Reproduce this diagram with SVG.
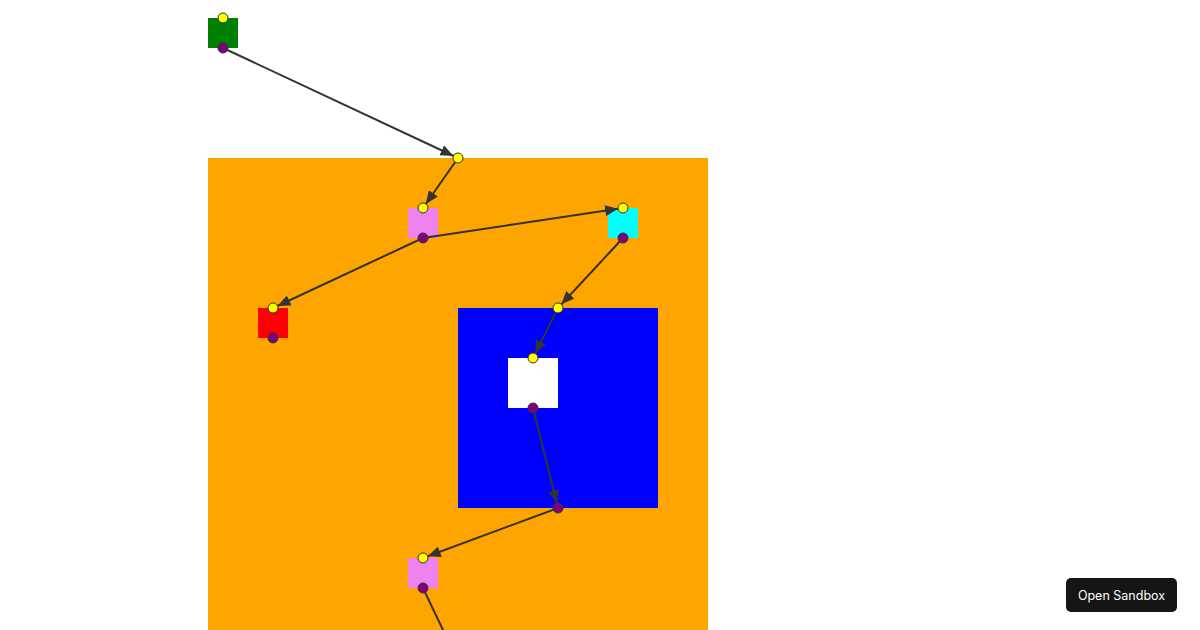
<svg xmlns="http://www.w3.org/2000/svg" width="1200" height="630" viewBox="0 0 1200 630">
  <style>
    .edge { stroke: #333333; stroke-width: 2; fill: none; }
    .in { fill: #ffff00; stroke: #333333; stroke-width: 1; }
    .out { fill: #800080; stroke: #333333; stroke-width: 1; }
    .btn-text { font-family: Inter, "Liberation Sans", sans-serif; font-size: 12.5px; fill: #ffffff; }
  </style>
  <defs>
    <marker id="arrow" viewBox="0 0 13 11" markerWidth="13" markerHeight="11" refX="18" refY="5.5" markerUnits="userSpaceOnUse" orient="auto">
      <path d="M0,0 L13,5.5 L0,11 Z" fill="#333333"/>
    </marker>
  </defs>
  <rect width="1200" height="630" fill="#ffffff"/>

  <g id="orange-container">
    <rect x="208" y="158" width="500" height="480" fill="#ffa500"/>
  </g>
  <g id="blue-container">
    <rect x="458" y="308" width="200" height="200" fill="#0000ff"/>
  </g>
  <g id="green-node">
    <rect x="208" y="18" width="30" height="30" fill="#008000"/>
  </g>
  <g id="pink-node-1">
    <rect x="408" y="208" width="30" height="30" fill="#ee82ee"/>
  </g>
  <g id="cyan-node">
    <rect x="608" y="208" width="30" height="30" fill="#00ffff"/>
  </g>
  <g id="red-node">
    <rect x="258" y="308" width="30" height="30" fill="#ff0000"/>
  </g>
  <g id="white-node">
    <rect x="508" y="358" width="50" height="50" fill="#ffffff"/>
  </g>
  <g id="pink-node-2">
    <rect x="408" y="558" width="30" height="30" fill="#ee82ee"/>
  </g>

  <g id="connectors">
    <line class="edge" x1="223" y1="48" x2="458" y2="158" marker-end="url(#arrow)"/>
    <line class="edge" x1="458" y1="158" x2="423" y2="208" marker-end="url(#arrow)"/>
    <line class="edge" x1="423" y1="238" x2="623" y2="208" marker-end="url(#arrow)"/>
    <line class="edge" x1="423" y1="238" x2="273" y2="308" marker-end="url(#arrow)"/>
    <line class="edge" x1="623" y1="238" x2="558" y2="308" marker-end="url(#arrow)"/>
    <line class="edge" x1="558" y1="308" x2="533" y2="358" marker-end="url(#arrow)"/>
    <line class="edge" x1="533" y1="408" x2="558" y2="508" marker-end="url(#arrow)"/>
    <line class="edge" x1="558" y1="508" x2="423" y2="558" marker-end="url(#arrow)"/>
    <line class="edge" x1="423" y1="588" x2="453" y2="651"/>
  </g>

  <g id="ports">
    <circle class="in" cx="223" cy="18" r="5"/>
    <circle class="out" cx="223" cy="48" r="5"/>
    <circle class="in" cx="458" cy="158" r="5"/>
    <circle class="in" cx="423" cy="208" r="5"/>
    <circle class="out" cx="423" cy="238" r="5"/>
    <circle class="in" cx="623" cy="208" r="5"/>
    <circle class="out" cx="623" cy="238" r="5"/>
    <circle class="in" cx="273" cy="308" r="5"/>
    <circle class="out" cx="273" cy="338" r="5"/>
    <circle class="in" cx="558" cy="308" r="5"/>
    <circle class="out" cx="558" cy="508" r="5"/>
    <circle class="in" cx="533" cy="358" r="5"/>
    <circle class="out" cx="533" cy="408" r="5"/>
    <circle class="in" cx="423" cy="558" r="5"/>
    <circle class="out" cx="423" cy="588" r="5"/>
  </g>

  <g id="open-sandbox-button">
    <rect x="1066" y="578" width="111" height="34" rx="5" fill="#151515"/>
    <text class="btn-text" x="1121.5" y="599.5" text-anchor="middle">Open Sandbox</text>
  </g>
</svg>
